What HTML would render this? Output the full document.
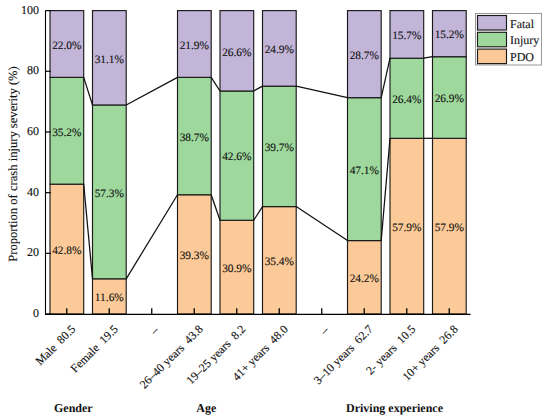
<!DOCTYPE html><html><head><meta charset="utf-8"><style>html,body{margin:0;padding:0;background:#fff;}svg{display:block}text{font-family:"Liberation Serif",serif;fill:#111;stroke:#111;stroke-width:0.12px;text-rendering:geometricPrecision;}</style></head><body>
<svg width="550" height="420" viewBox="0 0 550 420">
<rect x="50.0" y="184.14" width="33.7" height="129.86" fill="#FCCA98" stroke="#1a1a1a" stroke-width="1.15"/>
<rect x="50.0" y="77.35" width="33.7" height="106.80" fill="#9ED89C" stroke="#1a1a1a" stroke-width="1.15"/>
<rect x="50.0" y="10.60" width="33.7" height="66.75" fill="#C2B5D8" stroke="#1a1a1a" stroke-width="1.15"/>
<rect x="92.5" y="278.81" width="33.7" height="35.19" fill="#FCCA98" stroke="#1a1a1a" stroke-width="1.15"/>
<rect x="92.5" y="104.96" width="33.7" height="173.85" fill="#9ED89C" stroke="#1a1a1a" stroke-width="1.15"/>
<rect x="92.5" y="10.60" width="33.7" height="94.36" fill="#C2B5D8" stroke="#1a1a1a" stroke-width="1.15"/>
<rect x="177.5" y="194.76" width="33.7" height="119.24" fill="#FCCA98" stroke="#1a1a1a" stroke-width="1.15"/>
<rect x="177.5" y="77.35" width="33.7" height="117.42" fill="#9ED89C" stroke="#1a1a1a" stroke-width="1.15"/>
<rect x="177.5" y="10.60" width="33.7" height="66.75" fill="#C2B5D8" stroke="#1a1a1a" stroke-width="1.15"/>
<rect x="220.0" y="220.25" width="33.7" height="93.75" fill="#FCCA98" stroke="#1a1a1a" stroke-width="1.15"/>
<rect x="220.0" y="91.00" width="33.7" height="129.25" fill="#9ED89C" stroke="#1a1a1a" stroke-width="1.15"/>
<rect x="220.0" y="10.60" width="33.7" height="80.40" fill="#C2B5D8" stroke="#1a1a1a" stroke-width="1.15"/>
<rect x="262.5" y="206.60" width="33.7" height="107.40" fill="#FCCA98" stroke="#1a1a1a" stroke-width="1.15"/>
<rect x="262.5" y="86.15" width="33.7" height="120.45" fill="#9ED89C" stroke="#1a1a1a" stroke-width="1.15"/>
<rect x="262.5" y="10.60" width="33.7" height="75.55" fill="#C2B5D8" stroke="#1a1a1a" stroke-width="1.15"/>
<rect x="347.5" y="240.58" width="33.7" height="73.42" fill="#FCCA98" stroke="#1a1a1a" stroke-width="1.15"/>
<rect x="347.5" y="97.68" width="33.7" height="142.90" fill="#9ED89C" stroke="#1a1a1a" stroke-width="1.15"/>
<rect x="347.5" y="10.60" width="33.7" height="87.08" fill="#C2B5D8" stroke="#1a1a1a" stroke-width="1.15"/>
<rect x="390.0" y="138.33" width="33.7" height="175.67" fill="#FCCA98" stroke="#1a1a1a" stroke-width="1.15"/>
<rect x="390.0" y="58.23" width="33.7" height="80.10" fill="#9ED89C" stroke="#1a1a1a" stroke-width="1.15"/>
<rect x="390.0" y="10.60" width="33.7" height="47.63" fill="#C2B5D8" stroke="#1a1a1a" stroke-width="1.15"/>
<rect x="432.5" y="138.33" width="33.7" height="175.67" fill="#FCCA98" stroke="#1a1a1a" stroke-width="1.15"/>
<rect x="432.5" y="56.72" width="33.7" height="81.61" fill="#9ED89C" stroke="#1a1a1a" stroke-width="1.15"/>
<rect x="432.5" y="10.60" width="33.7" height="46.12" fill="#C2B5D8" stroke="#1a1a1a" stroke-width="1.15"/>
<line x1="83.7" y1="184.14" x2="92.5" y2="278.81" stroke="#111" stroke-width="1.25"/>
<line x1="83.7" y1="77.35" x2="92.5" y2="104.96" stroke="#111" stroke-width="1.25"/>
<line x1="126.2" y1="278.81" x2="177.5" y2="194.76" stroke="#111" stroke-width="1.25"/>
<line x1="126.2" y1="104.96" x2="177.5" y2="77.35" stroke="#111" stroke-width="1.25"/>
<line x1="211.2" y1="194.76" x2="220.0" y2="220.25" stroke="#111" stroke-width="1.25"/>
<line x1="211.2" y1="77.35" x2="220.0" y2="91.00" stroke="#111" stroke-width="1.25"/>
<line x1="253.7" y1="220.25" x2="262.5" y2="206.60" stroke="#111" stroke-width="1.25"/>
<line x1="253.7" y1="91.00" x2="262.5" y2="86.15" stroke="#111" stroke-width="1.25"/>
<line x1="296.2" y1="206.60" x2="347.5" y2="240.58" stroke="#111" stroke-width="1.25"/>
<line x1="296.2" y1="86.15" x2="347.5" y2="97.68" stroke="#111" stroke-width="1.25"/>
<line x1="381.2" y1="240.58" x2="390.0" y2="138.33" stroke="#111" stroke-width="1.25"/>
<line x1="381.2" y1="97.68" x2="390.0" y2="58.23" stroke="#111" stroke-width="1.25"/>
<line x1="423.7" y1="138.33" x2="432.5" y2="138.33" stroke="#111" stroke-width="1.25"/>
<line x1="423.7" y1="58.23" x2="432.5" y2="56.72" stroke="#111" stroke-width="1.25"/>
<text x="66.85" y="253.87" font-size="11.4" text-anchor="middle">42.8%</text>
<text x="66.85" y="135.55" font-size="11.4" text-anchor="middle">35.2%</text>
<text x="66.85" y="48.77" font-size="11.4" text-anchor="middle">22.0%</text>
<text x="109.35" y="301.20" font-size="11.4" text-anchor="middle">11.6%</text>
<text x="109.35" y="196.68" font-size="11.4" text-anchor="middle">57.3%</text>
<text x="109.35" y="62.58" font-size="11.4" text-anchor="middle">31.1%</text>
<text x="194.35" y="259.18" font-size="11.4" text-anchor="middle">39.3%</text>
<text x="194.35" y="140.86" font-size="11.4" text-anchor="middle">38.7%</text>
<text x="194.35" y="48.77" font-size="11.4" text-anchor="middle">21.9%</text>
<text x="236.85" y="271.92" font-size="11.4" text-anchor="middle">30.9%</text>
<text x="236.85" y="160.43" font-size="11.4" text-anchor="middle">42.6%</text>
<text x="236.85" y="55.60" font-size="11.4" text-anchor="middle">26.6%</text>
<text x="279.35" y="265.10" font-size="11.4" text-anchor="middle">35.4%</text>
<text x="279.35" y="151.17" font-size="11.4" text-anchor="middle">39.7%</text>
<text x="279.35" y="53.17" font-size="11.4" text-anchor="middle">24.9%</text>
<text x="364.35" y="282.09" font-size="11.4" text-anchor="middle">24.2%</text>
<text x="364.35" y="173.93" font-size="11.4" text-anchor="middle">47.1%</text>
<text x="364.35" y="58.94" font-size="11.4" text-anchor="middle">28.7%</text>
<text x="406.85" y="230.97" font-size="11.4" text-anchor="middle">57.9%</text>
<text x="406.85" y="103.08" font-size="11.4" text-anchor="middle">26.4%</text>
<text x="406.85" y="39.22" font-size="11.4" text-anchor="middle">15.7%</text>
<text x="449.35" y="230.97" font-size="11.4" text-anchor="middle">57.9%</text>
<text x="449.35" y="102.32" font-size="11.4" text-anchor="middle">26.9%</text>
<text x="449.35" y="38.46" font-size="11.4" text-anchor="middle">15.2%</text>
<line x1="45.5" y1="10.6" x2="45.5" y2="314.5" stroke="#000" stroke-width="1.1"/>
<line x1="45" y1="314.4" x2="470.5" y2="314.4" stroke="#000" stroke-width="1.1"/>
<line x1="45.5" y1="314.00" x2="51" y2="314.00" stroke="#000" stroke-width="1.2"/>
<text x="39" y="317.00" font-size="12" text-anchor="end">0</text>
<line x1="45.5" y1="253.32" x2="51" y2="253.32" stroke="#000" stroke-width="1.2"/>
<text x="39" y="256.32" font-size="12" text-anchor="end">20</text>
<line x1="45.5" y1="192.64" x2="51" y2="192.64" stroke="#000" stroke-width="1.2"/>
<text x="39" y="195.64" font-size="12" text-anchor="end">40</text>
<line x1="45.5" y1="131.96" x2="51" y2="131.96" stroke="#000" stroke-width="1.2"/>
<text x="39" y="134.96" font-size="12" text-anchor="end">60</text>
<line x1="45.5" y1="71.28" x2="51" y2="71.28" stroke="#000" stroke-width="1.2"/>
<text x="39" y="74.28" font-size="12" text-anchor="end">80</text>
<line x1="45.5" y1="10.60" x2="51" y2="10.60" stroke="#000" stroke-width="1.2"/>
<text x="39" y="13.60" font-size="12" text-anchor="end">100</text>
<line x1="66.75" y1="314" x2="66.75" y2="308.3" stroke="#000" stroke-width="1.3"/>
<line x1="109.25" y1="314" x2="109.25" y2="308.3" stroke="#000" stroke-width="1.3"/>
<line x1="151.75" y1="314" x2="151.75" y2="308.3" stroke="#000" stroke-width="1.3"/>
<line x1="194.25" y1="314" x2="194.25" y2="308.3" stroke="#000" stroke-width="1.3"/>
<line x1="236.75" y1="314" x2="236.75" y2="308.3" stroke="#000" stroke-width="1.3"/>
<line x1="279.25" y1="314" x2="279.25" y2="308.3" stroke="#000" stroke-width="1.3"/>
<line x1="321.75" y1="314" x2="321.75" y2="308.3" stroke="#000" stroke-width="1.3"/>
<line x1="364.25" y1="314" x2="364.25" y2="308.3" stroke="#000" stroke-width="1.3"/>
<line x1="406.75" y1="314" x2="406.75" y2="308.3" stroke="#000" stroke-width="1.3"/>
<line x1="449.25" y1="314" x2="449.25" y2="308.3" stroke="#000" stroke-width="1.3"/>
<text x="76.2" y="329.9" font-size="11.8" text-anchor="end" style="white-space:pre" transform="rotate(-45 76.2 329.9)">Male  80.5</text>
<text x="118.7" y="329.9" font-size="11.8" text-anchor="end" style="white-space:pre" transform="rotate(-45 118.7 329.9)">Female  19.5</text>
<text x="159.2" y="331.09999999999997" font-size="11.8" text-anchor="end" style="white-space:pre" transform="rotate(-45 159.2 331.09999999999997)">–</text>
<text x="203.7" y="329.9" font-size="11.8" text-anchor="end" style="white-space:pre" transform="rotate(-45 203.7 329.9)">26–40 years  43.8</text>
<text x="246.2" y="329.9" font-size="11.8" text-anchor="end" style="white-space:pre" transform="rotate(-45 246.2 329.9)">19–25 years  8.2</text>
<text x="288.7" y="329.9" font-size="11.8" text-anchor="end" style="white-space:pre" transform="rotate(-45 288.7 329.9)">41+ years  48.0</text>
<text x="329.2" y="331.09999999999997" font-size="11.8" text-anchor="end" style="white-space:pre" transform="rotate(-45 329.2 331.09999999999997)">–</text>
<text x="373.7" y="329.9" font-size="11.8" text-anchor="end" style="white-space:pre" transform="rotate(-45 373.7 329.9)">3–10 years  62.7</text>
<text x="416.2" y="329.9" font-size="11.8" text-anchor="end" style="white-space:pre" transform="rotate(-45 416.2 329.9)">2- years  10.5</text>
<text x="458.7" y="329.9" font-size="11.8" text-anchor="end" style="white-space:pre" transform="rotate(-45 458.7 329.9)">10+ years  26.8</text>
<text x="0" y="0" font-size="12.6" text-anchor="middle" transform="translate(16.7 164) rotate(-90)">Proportion of crash injury severity (%)</text>
<text x="54" y="411.7" font-size="12" font-weight="bold" style="stroke:none">Gender</text>
<text x="196.3" y="411.7" font-size="12" font-weight="bold" style="stroke:none">Age</text>
<text x="346" y="411.5" font-size="12" font-weight="bold" style="stroke:none">Driving experience</text>
<rect x="475.5" y="13.5" width="66" height="51.5" fill="#fff" stroke="#999" stroke-width="1"/>
<rect x="477.5" y="15.50" width="29" height="14.5" fill="#C2B5D8" stroke="#1a1a1a" stroke-width="1.15"/>
<text x="510" y="27.50" font-size="12">Fatal</text>
<rect x="477.5" y="32.30" width="29" height="14.5" fill="#9ED89C" stroke="#1a1a1a" stroke-width="1.15"/>
<text x="510" y="44.30" font-size="12">Injury</text>
<rect x="477.5" y="49.10" width="29" height="14.5" fill="#FCCA98" stroke="#1a1a1a" stroke-width="1.15"/>
<text x="510" y="61.10" font-size="12">PDO</text>
</svg></body></html>
